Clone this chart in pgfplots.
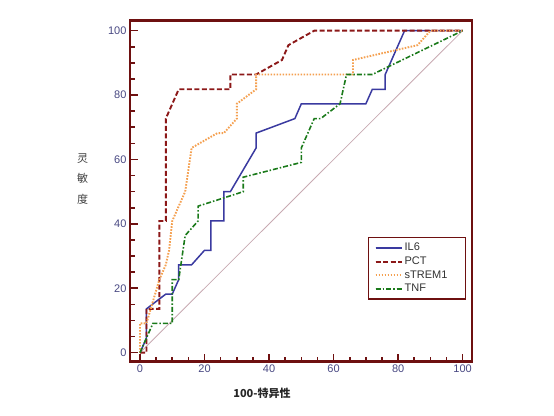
\documentclass[border=0pt]{standalone}
\usepackage{pgfplots}
\pgfplotsset{compat=1.18}
\usepackage{fontspec}
\setmainfont{Liberation Sans}
\newfontfamily\cjk{Noto Sans CJK SC}

\definecolor{frame}{RGB}{110,16,16}
\definecolor{ticktxt}{RGB}{72,72,130}
\definecolor{cil}{RGB}{58,58,160}
\definecolor{cpct}{RGB}{140,24,24}
\definecolor{ctrem}{RGB}{244,160,80}
\definecolor{ctnf}{RGB}{26,122,26}
\definecolor{cdiag}{RGB}{200,170,178}

\begin{document}
\begin{tikzpicture}[x=1pt,y=1pt]
\path[use as bounding box] (-130,-53.3) rectangle (424,361.7);
\begin{axis}[
    at={(0,0)}, anchor=south west,
    scale only axis,
    width=341.7pt, height=341pt,
    xmin=-3.1, xmax=102.8,
    ymin=-2.8, ymax=103.1,
    xtick={0,20,...,100},
    ytick={0,20,...,100},
    minor tick num=3,
    tick pos=left,
    tick align=inside,
    major tick length=8pt,
    minor tick length=4.5pt,
    every tick/.style={frame, line width=1.6pt},
    axis line style={frame, line width=2.4pt},
    tick label style={font=\fontsize{11}{12}\selectfont, text=ticktxt},
    /pgf/number format/assume math mode=true,
    legend style={
      at={(0.6965,0.3657)}, anchor=north west,
      draw=frame, line width=1.4pt,
      font=\fontsize{11}{12}\selectfont, text=black!80,
      inner xsep=6pt, inner ysep=3.5pt,
      row sep=0.6pt,
    },
    legend cell align=left,
    legend image code/.code={\draw[#1] (0pt,0pt) -- (22pt,0pt); \path (0pt,0pt) -- (26pt,0pt);},
  ]
  \addplot[cdiag, line width=0.8pt, forget plot] coordinates {(0,0) (100,100)};
  \addplot[cil, line width=1.5pt] coordinates {
    (0,0) (2,4.5) (2,13.6) (8,18.2) (10,18.2) (12,22.7) (12,27.3) (16,27.3)
    (20,31.8) (22,31.8) (22,40.9) (26,40.9) (26,50) (28,50) (36,63.6)
    (36,68.2) (48,72.7) (50,77.3) (70,77.3) (72,81.8) (76,81.8) (76,86.4)
    (82,100) (100,100)
  };
  \addplot[cpct, line width=1.9pt, dash pattern=on 5pt off 2.5pt] coordinates {
    (0,0) (2,0) (2,13.6) (6,13.6) (6,40.9) (8,40.9) (8,72.7) (12,81.8)
    (28,81.8) (28,86.4) (36,86.4) (44,90.9) (46,95.5) (54,100) (100,100)
  };
  \addplot[ctrem, line width=1.9pt, dash pattern=on 1.6pt off 1.4pt] coordinates {
    (0,0) (0,9.1) (2,9.1) (4,15.9) (6,22.7) (8,27.3) (9,31.8) (10,40.9)
    (12,45.5) (14,50) (16,63.6) (24,68.2) (26,68.2) (30,72.7) (30,77.3)
    (36,81.8) (36,86.4) (66,86.4) (66,90.9) (86,95.5) (90,100) (100,100)
  };
  \addplot[ctnf, line width=1.6pt, dash pattern=on 5pt off 2pt on 1.5pt off 2pt] coordinates {
    (0,0) (4,9.1) (10,9.1) (10,22.7) (12,22.7) (14,36.4) (18,40.9) (18,45.5)
    (32,50) (32,54.5) (50,59.1) (50,63.6) (54,72.7) (56,72.7) (62,77.3)
    (64,86.4) (72,86.4) (100,100)
  };
  \legend{\makebox[53pt][l]{IL6}, PCT, sTREM1, TNF}
\end{axis}
\node[align=center, text=black!75, font=\cjk\fontsize{11}{20.5}\selectfont] at (-47.3,182.7) {灵\\敏\\度};
\node[text=black!85, font=\cjk\bfseries\fontsize{11}{12}\selectfont] at (132,-31.3) {100-特异性};
\end{tikzpicture}
\end{document}
